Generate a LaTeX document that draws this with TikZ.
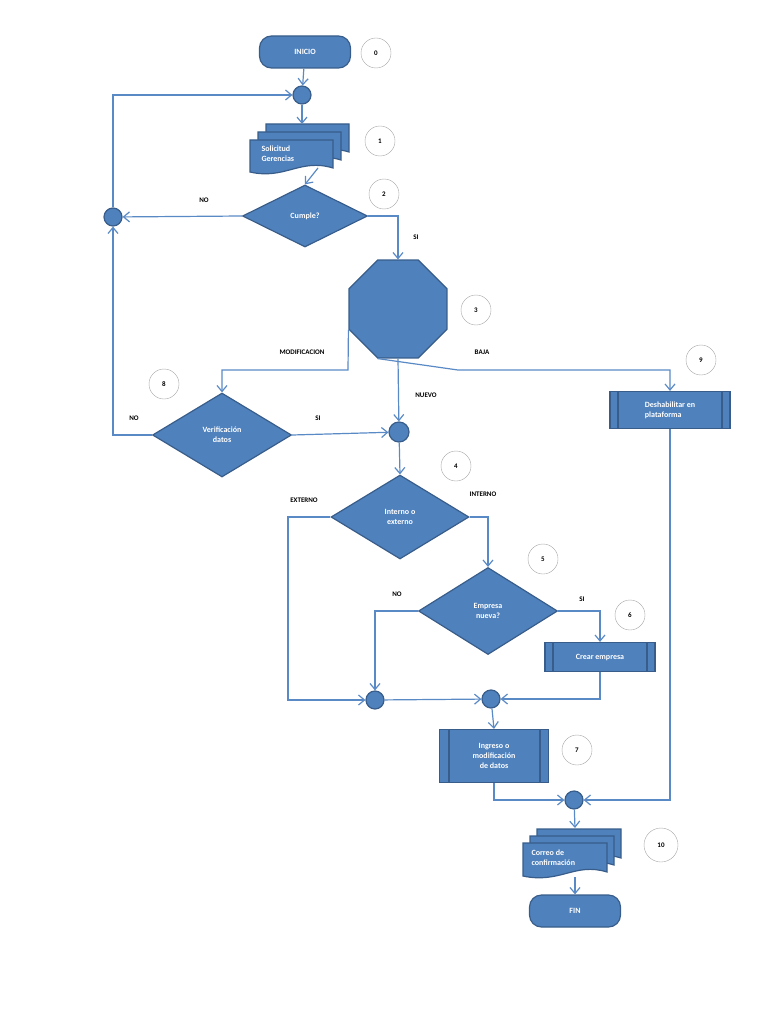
\documentclass[tikz,border=0pt]{standalone}
\usepackage{fontspec}
\setmainfont{Carlito}
\usetikzlibrary{shapes.geometric,arrows.meta}
\definecolor{boxfill}{HTML}{4F81BD}
\definecolor{boxline}{HTML}{385D8A}
\definecolor{wire}{HTML}{5A8AC6}
\begin{document}
\begin{tikzpicture}[x=1pt,y=-1pt,
  font=\fontsize{8}{10}\selectfont\bfseries,
  blue/.style={fill=boxfill,draw=boxline,line width=1.2pt,text=white},
  term/.style={blue,rounded corners=12pt,minimum width=91pt,minimum height=32pt},
  dec/.style={blue,diamond,aspect=1.6,inner sep=0pt,align=center},
  junc/.style={blue,circle,minimum size=18pt,inner sep=0pt},
  num/.style={circle,draw=gray!70,fill=white,minimum size=30pt,inner sep=0pt,font=\fontsize{7}{8}\selectfont\bfseries},
  proc/.style={blue,minimum width=#1,inner sep=0pt},
  lbl/.style={font=\fontsize{7}{8}\selectfont\bfseries},
  conn/.style={draw=wire,line width=1.2pt},
  arr/.style={conn,-{Straight Barb[length=6pt,width=10pt]}}]
\useasboundingbox (0,0) rectangle (768,1024);

% terminals and junctions
\node[term] (ini) at (305,52) {INICIO};
\node[num] at (376,53) {0};
\node[junc] (j1) at (302,95) {};
\node[junc] (j2) at (113,217) {};

% multidocument Solicitud
\foreach \d in {16,8,0}
  \draw[blue] (250+\d,140-\d) -- (333+\d,140-\d) -- (333+\d,168-\d)
    .. controls (300+\d,158-\d) and (285+\d,180-\d) .. (250+\d,172-\d) -- cycle;
\node[align=left,text=white,anchor=west] (sol) at (258,154) {Solicitud\\Gerencias};
\coordinate (solt) at (302,124);
\coordinate (solb) at (318,168);
\node[num] at (380,141) {1};

\node[dec,minimum width=125pt,minimum height=62pt] (cum) at (305,216) {Cumple?};
\node[num] at (384,194) {2};

\node[blue,regular polygon,regular polygon sides=8,minimum size=106pt] (oct) at (398,309) {};
\node[num] at (476,310) {3};

\node[dec,minimum width=139pt,minimum height=84pt] (ver) at (222,435) {Verificación\\datos};
\node[num] at (164,384) {8};
\node[junc,minimum size=20pt] (j3) at (399,432) {};

\node[proc=120pt,minimum height=37pt,align=left] (des) at (670,410) {Deshabilitar en\\plataforma};
\draw[boxline,line width=1.2pt] (618,392) -- (618,428) (722,392) -- (722,428);
\node[num] at (701,360) {9};

\node[dec,minimum width=138pt,minimum height=84pt] (int) at (400,517) {Interno o\\externo};
\node[num] at (456,466) {4};
\node[dec,minimum width=139pt,minimum height=87pt] (emp) at (488,611) {Empresa\\nueva?};
\node[num] at (543,559) {5};
\node[proc=110pt,minimum height=29pt] (cre) at (600,657) {Crear empresa};
\draw[boxline,line width=1.2pt] (553,643) -- (553,671) (647,643) -- (647,671);
\node[num] at (630,615) {6};

\node[junc] (j4) at (375,700) {};
\node[junc] (j5) at (491,699) {};
\node[proc=109pt,minimum height=53pt,align=center] (ing) at (494,756) {Ingreso o\\modificación\\de datos};
\draw[boxline,line width=1.2pt] (449,730) -- (449,782) (540,730) -- (540,782);
\node[num] at (577,750) {7};
\node[junc] (j6) at (574,800) {};

% multidocument Correo
\foreach \d in {14,7,0}
  \draw[blue] (523+\d,843-\d) -- (607+\d,843-\d) -- (607+\d,872-\d)
    .. controls (575+\d,862-\d) and (560+\d,884-\d) .. (523+\d,876-\d) -- cycle;
\node[align=left,text=white,anchor=west] (cor) at (528,858) {Correo de\\confirmación};
\coordinate (cort) at (575,828);
\coordinate (corb) at (575,877);
\node[num,minimum size=34pt] at (661,845) {10};
\node[term] (fin) at (575,911) {FIN};

% labels
\node[lbl] at (204,200) {NO};
\node[lbl] at (416,237) {SI};
\node[lbl] at (302,352) {MODIFICACION};
\node[lbl] at (482,352) {BAJA};
\node[lbl] at (426,395) {NUEVO};
\node[lbl] at (318,418) {SI};
\node[lbl] at (134,418) {NO};
\node[lbl] at (483,494) {INTERNO};
\node[lbl] at (304,500) {EXTERNO};
\node[lbl] at (397,594) {NO};
\node[lbl] at (582,599) {SI};

% connectors
\draw[arr] (ini) -- (j1);
\draw[arr] (j1) -- (solt);
\draw[arr] (solb) -- (cum.north);
\draw[arr] (cum.west) -- (j2);
\draw[arr] (j2) |- (j1);
\draw[arr] (cum.east) -| (oct.north);
\draw[arr] (oct.corner 4) -- (348,370) -| (ver.north);
\draw[arr] (oct.corner 5) -- (458,370) -| (des.north);
\draw[arr] (oct.south) -- (j3);
\draw[arr] (ver.east) -- (j3);
\draw[arr] (ver.west) -| (j2);
\draw[arr] (j3) -- (int.north);
\draw[arr] (int.east) -| (emp.north);
\draw[arr] (emp.east) -| (cre.north);
\draw[arr] (emp.west) -| (j4);
\draw[arr] (int.west) -| (288,700) -- (j4);
\draw[arr] (j4) -- (j5);
\draw[arr] (cre.south) |- (j5);
\draw[arr] (j5) -- (ing.north);
\draw[arr] (ing.south) |- (j6);
\draw[arr] (des.south) |- (j6);
\draw[arr] (j6) -- (cort);
\draw[arr] (corb) -- (fin);
\end{tikzpicture}
\end{document}
